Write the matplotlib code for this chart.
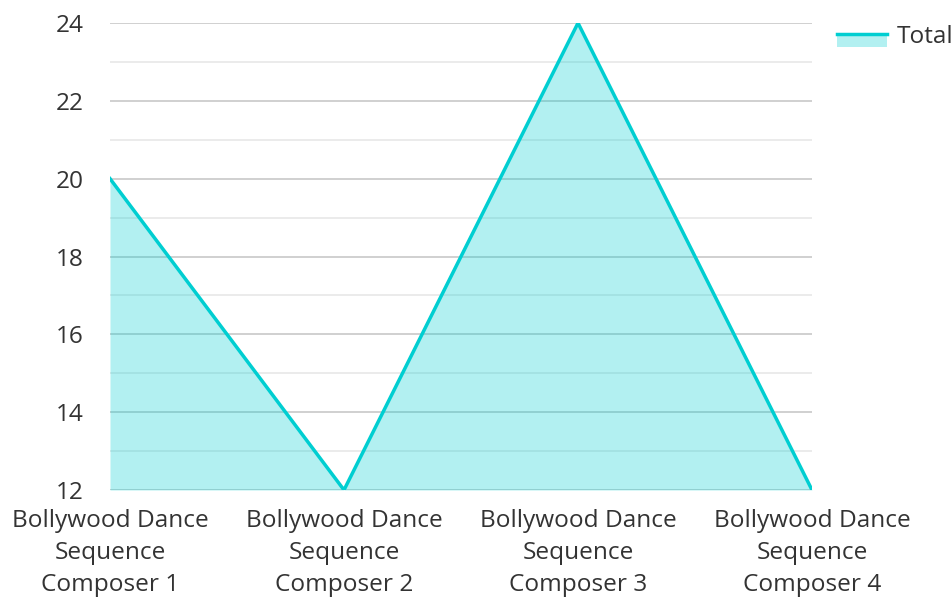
import matplotlib.pyplot as plt
from matplotlib.patches import Rectangle
from matplotlib.lines import Line2D
from matplotlib.ticker import MultipleLocator

plt.rcParams['font.family'] = ['Open Sans', 'DejaVu Sans']

categories = ['Bollywood Dance\nSequence\nComposer 1', 'Bollywood Dance\nSequence\nComposer 2',
              'Bollywood Dance\nSequence\nComposer 3', 'Bollywood Dance\nSequence\nComposer 4']
total = [20, 12, 24, 12]

line_color = '#00CED1'
fill_color = '#00CED1'
fs = 17.6

fig = plt.figure(figsize=(9.53, 5.97), dpi=100)
ax = fig.add_axes([110 / 953, 1 - 490 / 597, (812 - 110) / 953, (490 - 23) / 597])

x = list(range(len(categories)))
ax.fill_between(x, 12, total, color=fill_color, alpha=0.3, linewidth=0, zorder=2)
ax.plot(x, total, color=line_color, linewidth=2.5, zorder=3, solid_joinstyle='miter')

ax.set_xlim(0, len(categories) - 1)
ax.set_ylim(12, 24)
ax.yaxis.set_major_locator(MultipleLocator(2))
ax.yaxis.set_minor_locator(MultipleLocator(1))
ax.grid(axis='y', which='major', color='#c8c8c8', linewidth=1.2, zorder=1)
ax.grid(axis='y', which='minor', color='#e8e8e8', linewidth=1.2, zorder=1)
ax.set_axisbelow(True)

ax.set_xticks(x)
ax.set_xticklabels(categories, linespacing=1.42)
ax.tick_params(axis='both', which='both', length=0, labelsize=fs, colors='#333333')
ax.tick_params(axis='x', pad=14)
ax.tick_params(axis='y', pad=19)
for s in ax.spines.values():
    s.set_visible(False)

# legend drawn by hand
fig.patches.append(Rectangle((837 / 953, 1 - 47 / 597), 50 / 953, 14 / 597,
                             transform=fig.transFigure, color=fill_color, alpha=0.3, linewidth=0))
fig.lines.append(Line2D([837 / 953, 887 / 953], [1 - 34 / 597, 1 - 34 / 597],
                        transform=fig.transFigure, color=line_color, linewidth=2.5))
fig.text(897 / 953, 1 - 37 / 597, 'Total', fontsize=fs, color='#333333', va='center', ha='left')

fig.savefig('out.png', dpi=100)
